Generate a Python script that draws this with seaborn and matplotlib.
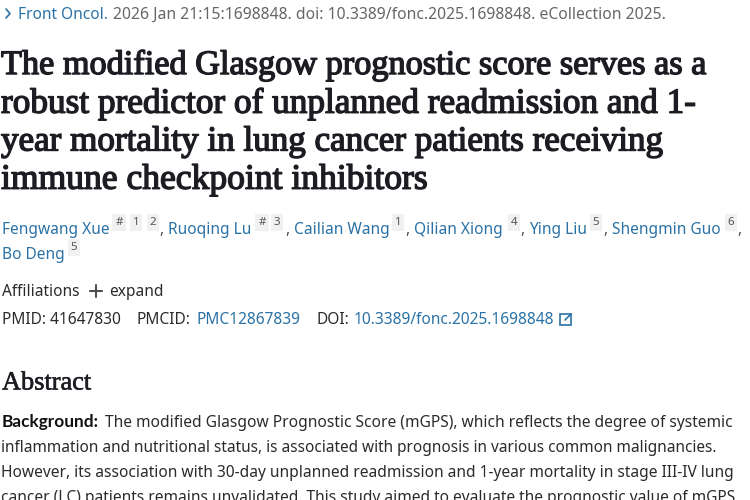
import matplotlib
matplotlib.use('Agg')
import matplotlib.pyplot as plt
import matplotlib.patheffects as pe
import seaborn as sns

sns.set_theme(style='white')

BLUE = '#2a72a5'
GREY = '#4f4f4f'
DARK = '#2b2b2b'
SANS = 'Noto Sans'
SERIF = 'Liberation Serif'
SHORT = 11.15  # font size of the short strings

# page text
journal = 'Front Oncol.'
citation = '2026 Jan 21:15:1698848. doi: 10.3389/fonc.2025.1698848. eCollection 2025.'
title_lines = ['The modified Glasgow prognostic score serves as a',
               'robust predictor of unplanned readmission and 1-',
               'year mortality in lung cancer patients receiving',
               'immune checkpoint inhibitors']
authors = ['Fengwang Xue', 'Ruoqing Lu', 'Cailian Wang', 'Qilian Xiong',
           'Ying Liu', 'Shengmin Guo', 'Bo Deng']
author_marks = [['#', '1', '2'], ['#', '3'], ['1'], ['4'], ['5'], ['6'], ['5']]
ids = ['PMID: 41647830', 'PMCID:', 'PMC12867839', 'DOI:', '10.3389/fonc.2025.1698848']
abstract_lines = ['The modified Glasgow Prognostic Score (mGPS), which reflects the degree of systemic',
                  'inflammation and nutritional status, is associated with prognosis in various common malignancies.',
                  'However, its association with 30-day unplanned readmission and 1-year mortality in stage III-IV lung',
                  'cancer (LC) patients remains unvalidated. This study aimed to evaluate the prognostic value of mGPS']

# layout in screen pixels
title_y = [62, 100, 138, 176]
title_end = [706, 696, 664, 428]
author_x = [2, 168, 294, 414, 529, 612, 2]
author_y = [228, 228, 228, 228, 228, 228, 253]
mark_x = [[119, 136, 153], [262, 277], [398], [514], [596], [731], [74]]
comma_x = [159, 285, 405, 520, 603, 737]
body_y = [421, 446, 471, 496]
body_x = [(105, 733), (1, 719), (1, 735), (1, 736)]

fig = plt.figure(figsize=(7.5, 5), dpi=100, facecolor='white')
ax = fig.add_axes([0, 0, 1, 1])
ax.set_xlim(0, 750)
ax.set_ylim(500, 0)
ax.axis('off')
renderer = fig.canvas.get_renderer()


def put(x0, y, s, x1=None, size=SHORT, color=GREY, family=SANS, weight='normal', stroke=0, **kw):
    # scale the font so the string spans x0..x1
    t = ax.text(x0, y, s, fontsize=size, color=color, family=family, weight=weight,
                ha='left', va='center_baseline', clip_on=True, **kw)
    if x1 is not None:
        w = t.get_window_extent(renderer).width
        t.set_fontsize(size * (x1 - x0) / w)
    if stroke:
        t.set_path_effects([pe.withStroke(linewidth=stroke, foreground=color)])
    return t


# citation line
ax.plot([6, 10, 6], [9, 13.5, 18], color=BLUE, lw=1.2)
put(18, 13, journal, color=BLUE)
put(113, 13, citation, 664, color='#666666')

# title
for s, y, end in zip(title_lines, title_y, title_end):
    put(1, y, s, end, size=20, color='#1c1c22', family=SERIF, stroke=1.0)

# authors with their affiliation marks
for name, x0, y in zip(authors, author_x, author_y):
    put(x0, y, name, color=BLUE)
for marks, xs, y in zip(author_marks, mark_x, author_y):
    for m, x in zip(marks, xs):
        ax.text(x, y - 5.5, m, fontsize=8.3, color='#555555', family=SANS, ha='center', va='center',
                bbox=dict(boxstyle='square,pad=0.25', fc='#f1f1f1', ec='none'))
for x in comma_x:
    put(x, 228, ',', color=GREY)

# affiliations
put(2, 290, 'Affiliations', color=DARK)
ax.plot([90, 102], [291, 291], color=GREY, lw=1.5)
ax.plot([96, 96], [285, 297], color=GREY, lw=1.5)
put(109, 290, 'expand', color=DARK)

# identifiers
put(2, 318, ids[0], color=DARK)
put(137, 318, ids[1], color=DARK)
put(196, 318, ids[2], color=BLUE)
put(317, 318, ids[3], color=DARK)
put(354, 318, ids[4], color=BLUE)
ax.add_patch(plt.Rectangle((560, 314), 11, 11, fill=False, ec=BLUE, lw=1.2))
ax.plot([565, 571], [320, 314], color=BLUE, lw=1.2)

# abstract
put(2, 381, 'Abstract', 91, size=16, color='#1c1c22', family=SERIF, stroke=0.4)
put(2, body_y[0], 'Background:', 99, color='#111111', family='Lato', weight='bold')
for s, (x0, x1), y in zip(abstract_lines, body_x, body_y):
    put(x0, y, s, x1, color=DARK)

fig.savefig('out.png', dpi=100)
